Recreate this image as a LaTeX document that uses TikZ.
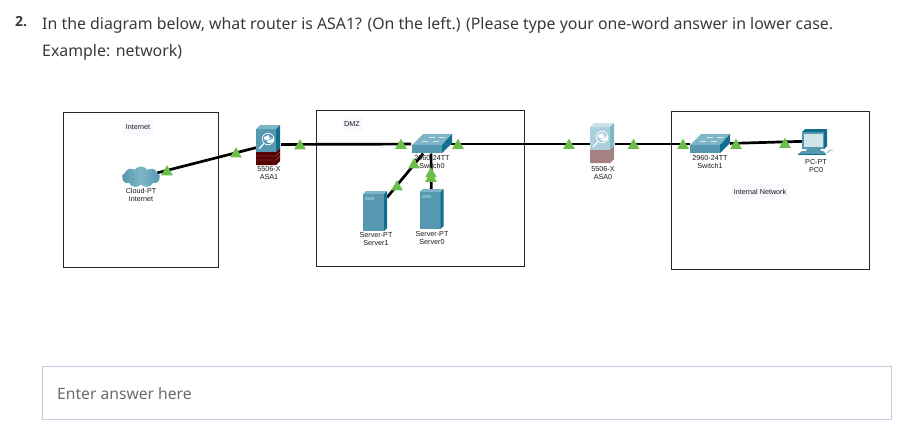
\documentclass[tikz,border=0pt]{standalone}
\usepackage{fontspec}
\setmainfont{Noto Sans}
\newfontfamily\numfont{Open Sans}
\newfontfamily\lblfont{Liberation Sans}
\usepackage{tikz}
\usetikzlibrary{shapes.geometric,shapes.symbols,backgrounds}
\definecolor{txtgrey}{HTML}{373A3C}
\definecolor{hintgrey}{HTML}{6A6A6A}
\definecolor{boxline}{HTML}{C8CBE0}
\definecolor{lblback}{HTML}{F8F8FF}
\definecolor{lnkgreen}{HTML}{6ABF4B}
\definecolor{devfront}{HTML}{5598B0}
\definecolor{devtop}{HTML}{7FB6C7}
\definecolor{devside}{HTML}{0F6F8C}
\tikzset{
  zone/.style={draw=black!85,line width=0.9pt},
  link/.style={draw=black,line width=2.7pt},
  lnk/.style={regular polygon,regular polygon sides=3,fill=lnkgreen,inner sep=0pt,minimum size=13.6pt},
  devlbl/.style={font=\lblfont\fontsize{7.2}{8}\selectfont,align=center,inner sep=0pt,text=black!90},
  zonelbl/.style={font=\lblfont\fontsize{7.2}{8}\selectfont,fill=lblback,text=black!90,inner sep=0pt},
  devbox/.style={inner sep=0pt,outer sep=0pt},
  pics/asaicon/.style n args={4}{code={
    \fill[#1] (0,0) -- (20,0) -- (20,23) -- (0,23) -- cycle;
    \fill[#2] (0,0) -- (4,-4) -- (24,-4) -- (20,0) -- cycle;
    \fill[#3] (20,0) -- (24,-4) -- (24,19) -- (20,23) -- cycle;
    \fill[#4] (0,23) -- (20,23) -- (24,19) -- (24,32) -- (20,36) -- (0,36) -- cycle;
    \draw[black!40,line width=0.25pt] (0,27) -- (20,27) -- (24,23) (0,31) -- (20,31) -- (24,27);
    \draw[white,line width=0.7pt] (12,10) circle (5.8);
    \draw[white,line width=1.2pt] (8,14.5) -- (3,20);
    \fill[white] (8,8) -- (13,6) -- (13,8.5) -- (16,8.5) -- (12,11) -- (8,10.5) -- cycle;
    \fill[white] (10,12) -- (14,11) -- (18,9) -- (18,13) -- (13,14) -- cycle;
  }},
  pics/switchicon/.style={code={
    \fill[devtop] (0,11) -- (11,0) -- (40,0) -- (30,11) -- cycle;
    \fill[devfront] (0,11) -- (30,11) -- (30,19) -- (0,19) -- cycle;
    \fill[devside] (30,11) -- (40,0) -- (40,9) -- (30,19) -- cycle;
    \draw[white!70!devtop,line width=0.4pt] (10,7) -- (16,7) (21,7) -- (27,7) (17,3.5) -- (23,3.5) (27,3.5) -- (33,3.5);
  }},
  pics/servericon/.style={code={
    \fill[devtop] (0,0) -- (3,-3) -- (24,-3) -- (21,0) -- cycle;
    \fill[devfront] (0,0) -- (21,0) -- (21,37) -- (0,37) -- cycle;
    \fill[devside] (21,0) -- (24,-3) -- (24,34) -- (21,37) -- cycle;
    \fill[devtop] (2,3) rectangle (11,6);
  }},
  pics/pcicon/.style={code={
    \fill[devside] (0,3) -- (3,0) -- (25,0) -- (25,17) -- (22,20) -- (0,20) -- cycle;
    \fill[devfront] (0,3) -- (22,3) -- (22,20) -- (0,20) -- cycle;
    \fill[devtop!35!white] (1.5,4.5) -- (20.5,4.5) -- (20.5,18) -- (1.5,18) -- cycle;
    \fill[devfront] (5,20) -- (18,20) -- (19,22) -- (4,22) -- cycle;
    \fill[devfront] (0,22) -- (21,22) -- (24,25) -- (-4,25) -- cycle;
    \fill[devside] (-4,25) -- (24,25) -- (24,26) -- (-4,26) -- cycle;
    \draw[devfront,line width=0.5pt] (25,24) -- (28,21) -- (31,21);
  }}
}
\begin{document}
\begin{tikzpicture}[x=1pt,y=-1pt]
\useasboundingbox (0,0) rectangle (913,436);
\node [anchor=base west,inner sep=0pt,text=txtgrey,font=\numfont\bfseries\fontsize{14}{14}\selectfont] (qnum) at (15,27) {2.};
\node [anchor=base west,inner sep=0pt,text=txtgrey,font=\fontsize{15.88}{16}\selectfont] (qline1) at (42,30) {In the diagram below, what router is ASA1? (On the left.) (Please type your one-word answer in lower case.};
\node [anchor=base west,inner sep=0pt,text=txtgrey,font=\fontsize{15.88}{16}\selectfont] (qline2) at (42,57) {Example: network)};
\node [draw=boxline,line width=0.8pt,minimum width=849pt,minimum height=53pt,inner sep=0pt] (ansbox) at (466.5,392.5) {};
\node [anchor=base west,inner sep=0pt,text=hintgrey,font=\fontsize{15.65}{16}\selectfont] (anshint) at (57,399) {Enter answer here};
\node [cloud,cloud puffs=9,cloud puff arc=110,cloud ignores aspect,minimum width=38pt,minimum height=21pt,inner sep=0pt,left color=devfront,right color=devfront,middle color=devtop] (inetcloud) at (141,177) {};
\node [devbox,minimum width=25pt,minimum height=40pt] (asa1) at (268.5,144.5) {};
\node [devbox,minimum width=40pt,minimum height=19pt] (switch0) at (431,144) {};
\node [devbox,minimum width=24pt,minimum height=40pt] (server1) at (375,212) {};
\node [devbox,minimum width=24pt,minimum height=40pt] (server0) at (431.5,209) {};
\node [devbox,minimum width=25pt,minimum height=40pt] (asa0) at (602,144) {};
\node [devbox,minimum width=40pt,minimum height=19pt] (switch1) at (710,144) {};
\node [devbox,minimum width=25pt,minimum height=20pt] (pc0) at (815,141) {};
\begin{scope}[on background layer]
\draw [zone] (63,112) rectangle (218,267);
\draw [zone] (316.5,110) rectangle (524.5,266);
\draw [zone] (671,111) rectangle (869,269);
\draw [link] (inetcloud) -- (asa1);
\draw [link] (asa1) -- (switch0);
\draw [link] (switch0) -- (asa0);
\draw [link] (asa0) -- (switch1);
\draw [link] (switch1) -- (pc0);
\draw [link] (switch0) -- (server1);
\draw [link] (switch0) -- (server0);
\end{scope}
\pic at (256,129) {asaicon={devfront}{devtop}{devside}{red!35!black}};
\pic at (590,127) {asaicon={devtop!65!white}{devtop!40!white}{devtop}{red!30!black!50!white}};
\pic at (412,134) {switchicon};
\pic at (690,134) {switchicon};
\pic at (363,194) {servericon};
\pic at (419.5,192) {servericon};
\pic at (802,129) {pcicon};
\node [lnk] (lnka) at (167,172) {};
\node [lnk] (lnkb) at (236,154) {};
\node [lnk] (lnkc) at (300,146) {};
\node [lnk] (lnkd) at (401,145.5) {};
\node [lnk] (lnke) at (458,145.5) {};
\node [lnk] (lnkf) at (414,165) {};
\node [lnk] (lnkg) at (397,187) {};
\node [lnk] (lnkh) at (431,174) {};
\node [lnk] (lnki) at (431,178.5) {};
\node [lnk] (lnkj) at (569,145.5) {};
\node [lnk] (lnkk) at (633.5,145.5) {};
\node [lnk] (lnkl) at (683,145.5) {};
\node [lnk] (lnkm) at (736,145.5) {};
\node [lnk] (lnkn) at (785,144.5) {};
\node [zonelbl,minimum width=30pt,minimum height=15pt] (inetlbl) at (138,127) {Internet};
\node [zonelbl,minimum width=21pt,minimum height=14pt] (dmzlbl) at (352,124) {DMZ};
\node [zonelbl,minimum width=57pt,minimum height=15pt] (intlbl) at (760,191.5) {Internal Network};
\node [devlbl] (cloudlbl) at (141,195) {Cloud-PT\\Internet};
\node [devlbl] (asa1lbl) at (269,173) {5506-X\\ASA1};
\node [devlbl] (sw0lbl) at (432,162) {2960-24TT\\Switch0};
\node [devlbl] (srv1lbl) at (376,239.5) {Server-PT\\Server1};
\node [devlbl] (srv0lbl) at (432,238) {Server-PT\\Server0};
\node [devlbl] (asa0lbl) at (603,173) {5506-X\\ASA0};
\node [devlbl] (sw1lbl) at (710,162) {2960-24TT\\Switch1};
\node [devlbl] (pclbl) at (816,166) {PC-PT\\PC0};
\end{tikzpicture}
\end{document}
